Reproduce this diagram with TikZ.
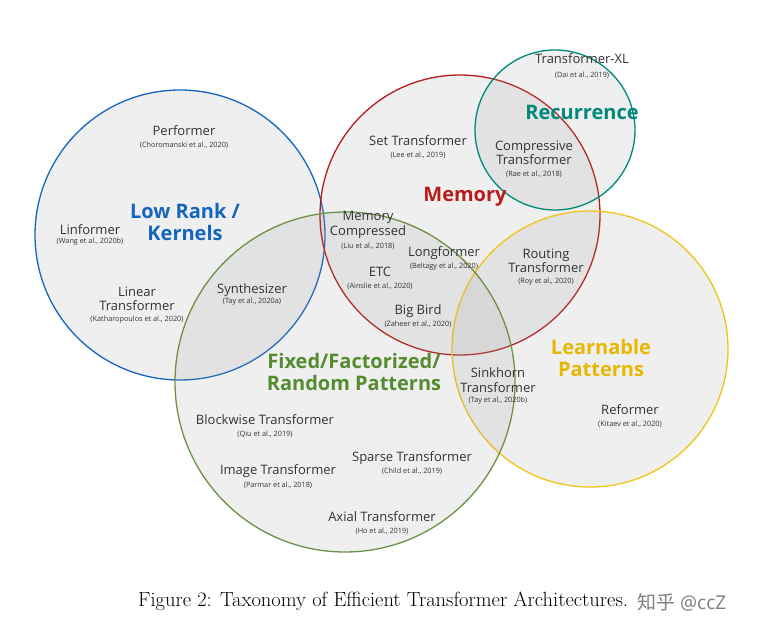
\documentclass[tikz,border=0pt]{standalone}
\usepackage{fontspec}
\setmainfont{Open Sans}
\newfontfamily\lmr{Latin Modern Roman}
\newfontfamily\cjk{Noto Sans CJK SC}
\begin{document}
\begin{tikzpicture}[x=1pt,y=-1pt,
  set/.style={line width=1.3pt,fill=black!40,fill opacity=0.15},
  it/.style={align=center,text=black!80,font=\fontsize{13}{14.5}\selectfont,inner sep=0pt},
  ci/.style={text=black!80,font=\fontsize{7.3}{8}\selectfont,inner sep=0pt},
  hd/.style={align=center,font=\bfseries\fontsize{20}{22}\selectfont,inner sep=0pt}]
\useasboundingbox[fill=white] (0,0) rectangle (765,636);
\definecolor{cblue}{HTML}{1565C0}\definecolor{cred}{HTML}{B71C1C}
\definecolor{cteal}{HTML}{00897B}\definecolor{cyel}{HTML}{F0C419}
\definecolor{cgreen}{HTML}{6E9149}\definecolor{hgreen}{HTML}{558B2F}
\definecolor{hyel}{HTML}{E6B800}
\draw[set,draw=cblue] (180,235) circle[radius=145];
\draw[set,draw=cred] (460,215) circle[radius=140];
\draw[set,draw=cteal] (555,130) circle[radius=80];
\draw[set,draw=cyel] (590,349) circle[radius=138];
\draw[set,draw=cgreen] (345,382) circle[radius=170];
\node[hd,text=cblue] (lr) at (185,222) {Low Rank /\\Kernels};
\node[hd,text=cred] (mem) at (465,197) {Memory};
\node[hd,text=cteal] (rec) at (582,112) {Recurrence};
\node[hd,text=hyel] (lp) at (601,358) {Learnable\\Patterns};
\node[hd,text=hgreen] (fp) at (354,372) {Fixed/Factorized/\\Random Patterns};
\node[it] (a1) at (184,131) {Performer};
\node[ci] (b1) at (184,145) {(Choromanski et al., 2020)};
\node[it] (a2) at (90,230) {Linformer};
\node[ci] (b2) at (90,242) {(Wang et al., 2020b)};
\node[it] (a3) at (137,299) {Linear\\Transformer};
\node[ci] (b3) at (137,320) {(Katharopoulos et al., 2020)};
\node[it] (a4) at (252,290) {Synthesizer};
\node[ci] (b4) at (252,302) {(Tay et al., 2020a)};
\node[it] (a5) at (418,141) {Set Transformer};
\node[ci] (b5) at (418,155) {(Lee et al., 2019)};
\node[it] (a6) at (582,59) {Transformer-XL};
\node[ci] (b6) at (582,75) {(Dai et al., 2019)};
\node[it] (a7) at (534,153) {Compressive\\Transformer};
\node[ci] (b7) at (534,174) {(Rae et al., 2018)};
\node[it] (a8) at (368,225) {Memory\\Compressed};
\node[ci] (b8) at (368,246) {(Liu et al., 2018)};
\node[it] (a9) at (444,253) {Longformer};
\node[ci] (b9) at (444,267) {(Beltagy et al., 2020)};
\node[it] (a10) at (380,272) {ETC};
\node[ci] (b10) at (380,286) {(Ainslie et al., 2020)};
\node[it] (a11) at (418,311) {Big Bird};
\node[ci] (b11) at (418,324) {(Zaheer et al., 2020)};
\node[it] (a12) at (546,261) {Routing\\Transformer};
\node[ci] (b12) at (546,282) {(Roy et al., 2020)};
\node[it] (a13) at (498,380) {Sinkhorn\\Transformer};
\node[ci] (b13) at (498,401) {(Tay et al., 2020b)};
\node[it] (a14) at (630,410) {Reformer};
\node[ci] (b14) at (630,424) {(Kitaev et al., 2020)};
\node[it] (a15) at (265,420) {Blockwise Transformer};
\node[ci] (b15) at (265,434) {(Qiu et al., 2019)};
\node[it] (a16) at (412,458) {Sparse Transformer};
\node[ci] (b16) at (412,471) {(Child et al., 2019)};
\node[it] (a17) at (278,471) {Image Transformer};
\node[ci] (b17) at (278,485) {(Parmar et al., 2018)};
\node[it] (a18) at (382,517) {Axial Transformer};
\node[ci] (b18) at (382,531) {(Ho et al., 2019)};
\node[inner sep=0pt,anchor=west,font=\lmr\fontsize{20.5}{22}\selectfont] (cap) at (138,601) {Figure 2: Taxonomy of Efficient Transformer Architectures.};
\node[inner sep=0pt,anchor=west,text=black!50,font=\fontsize{19}{20}\selectfont] (wm) at (637,602) {{\cjk 知乎} @ccZ};
\end{tikzpicture}
\end{document}
